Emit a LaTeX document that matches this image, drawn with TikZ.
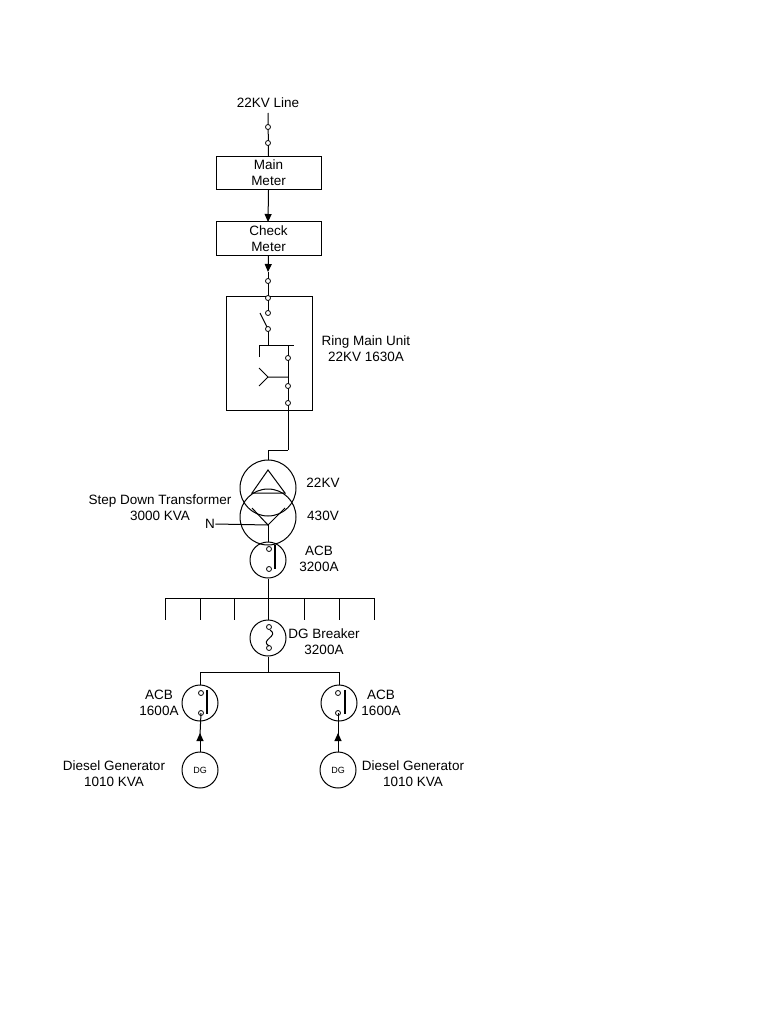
\documentclass[tikz,border=0pt]{standalone}
\usepackage{fontspec}
\setmainfont{Liberation Sans}
\usetikzlibrary{arrows.meta}
\begin{document}
\begin{tikzpicture}[x=1pt,y=-1pt,line width=1pt,
  lbl/.style={align=center,font=\fontsize{13.5}{16}\selectfont,inner sep=0pt},
  box/.style={draw,minimum width=105pt,minimum height=33pt,align=center,font=\fontsize{13.5}{16}\selectfont,inner sep=0pt},
  ring/.style={draw,circle,minimum size=36pt,inner sep=0pt},
  tc/.style={draw,circle,fill=white,minimum size=5pt,inner sep=0pt,line width=0.8pt},
  arr/.style={-{Triangle[length=8pt,width=7pt]}}]
\useasboundingbox (0,0) rectangle (768,1024);
% top
\node[lbl] (line) at (268,103) {22KV Line};
\node[box] (mm) at (268.5,173) {Main\\Meter};
\node[box] (cm) at (268.5,238.5) {Check\\Meter};
\coordinate (t0) at (268,113);
\draw (t0) -- (mm.north);
\node[tc] (c1) at (268,127) {};
\node[tc] (c2) at (268,143) {};
\draw[arr] (mm.south) -- (268,222);
\coordinate (a2) at (268,272);
\draw[arr] (cm.south) -- (a2);
% RMU
\node[draw,minimum width=86pt,minimum height=114pt,inner sep=0pt] (rmu) at (269,353) {};
\coordinate (s1) at (268,298);
\coordinate (s2) at (268,313);
\coordinate (s3) at (268,329);
\coordinate (sw) at (260,313);
\draw (a2) -- (s2);
\draw (s3) -- (sw);
\draw (s3) -- (268,345);
\draw (259,357) -- (259,345) -- (294,345);
\coordinate (r1) at (288,358);
\coordinate (r2) at (288,386);
\coordinate (r3) at (288,403);
\coordinate (rb) at (288,450);
\draw (288,345) -- (rb);
\draw (259,368) -- (268,377) -- (288,377);
\draw (259,386) -- (268,377);
\node[tc] at (268,281) {};
\node[tc] at (s1) {};
\node[tc] at (s2) {};
\node[tc] at (s3) {};
\node[tc] at (r1) {};
\node[tc] at (r2) {};
\node[tc] at (r3) {};
\node[lbl] (rmul) at (366,349) {Ring Main Unit\\22KV 1630A};
% transformer
\node[ring,minimum size=56pt] (tu) at (268,488) {};
\node[ring,minimum size=56pt] (tl) at (268,517) {};
\draw (rb) -- (268,450) -- (tu.north);
\draw (268,470) -- (252,493) -- (285,493) -- cycle;
\coordinate (yc) at (268,525);
\draw (252,508) -- (yc) -- (285,508);
\node[lbl] (N) at (210,524) {N};
\draw (N.east) -- (yc);
\node[lbl] (hv) at (323,483) {22KV};
\node[lbl] (lv) at (323,516) {430V};
\node[lbl] (sdt) at (160,508) {Step Down Transformer\\3000 KVA};
% ACB main
\node[ring] (acb) at (268,560) {};
\draw (yc) -- (acb.north);
\node[tc] at (269,549) {};
\node[tc] at (269,569) {};
\draw[line width=1.6pt] (275,545) -- (275,569);
\node[lbl] (acbl) at (319,559) {ACB\\3200A};
% bus
\coordinate (bus) at (268,598);
\draw (acb.south) -- (bus);
\draw (165,598) -- (374,598);
\foreach \x in {165,200,234,304,339,374} \draw (\x,598) -- (\x,620);
% DG breaker
\node[ring] (dgb) at (268,638) {};
\draw (bus) -- (dgb.north);
\node[tc] at (269,627) {};
\node[tc] at (269,648) {};
\draw (270,630) .. controls (280,636) and (259,640) .. (269,646);
\node[lbl] (dgbl) at (324,642) {DG Breaker\\3200A};
\coordinate (sp) at (268,672);
\draw (dgb.south) -- (sp);
% branches
\node[ring] (acbL) at (200,703) {};
\node[ring] (acbR) at (339,703) {};
\draw (acbL.north) -- (200,672) -- (339,672) -- (acbR.north);
\node[tc] at (201,693) {};
\node[tc] at (201,713) {};
\draw[line width=1.6pt] (207,690) -- (207,714);
\node[tc] at (338,693) {};
\node[tc] at (338,713) {};
\draw[line width=1.6pt] (345,690) -- (345,714);
\node[lbl] (aL) at (159,703) {ACB\\1600A};
\node[lbl] (aR) at (381,703) {ACB\\1600A};
\node[ring] (dgL) at (200,770) {\fontsize{9}{10}\selectfont DG};
\node[ring] (dgR) at (338,770) {\fontsize{9}{10}\selectfont DG};
\draw[arr] (dgL.north) -- (200,733);
\draw (200,735) -- (201,713);
\draw[arr] (dgR.north) -- (338,733);
\draw (338,735) -- (338,713);
\node[lbl] (gL) at (114,774) {Diesel Generator\\1010 KVA};
\node[lbl] (gR) at (413,774) {Diesel Generator\\1010 KVA};
\end{tikzpicture}
\end{document}
